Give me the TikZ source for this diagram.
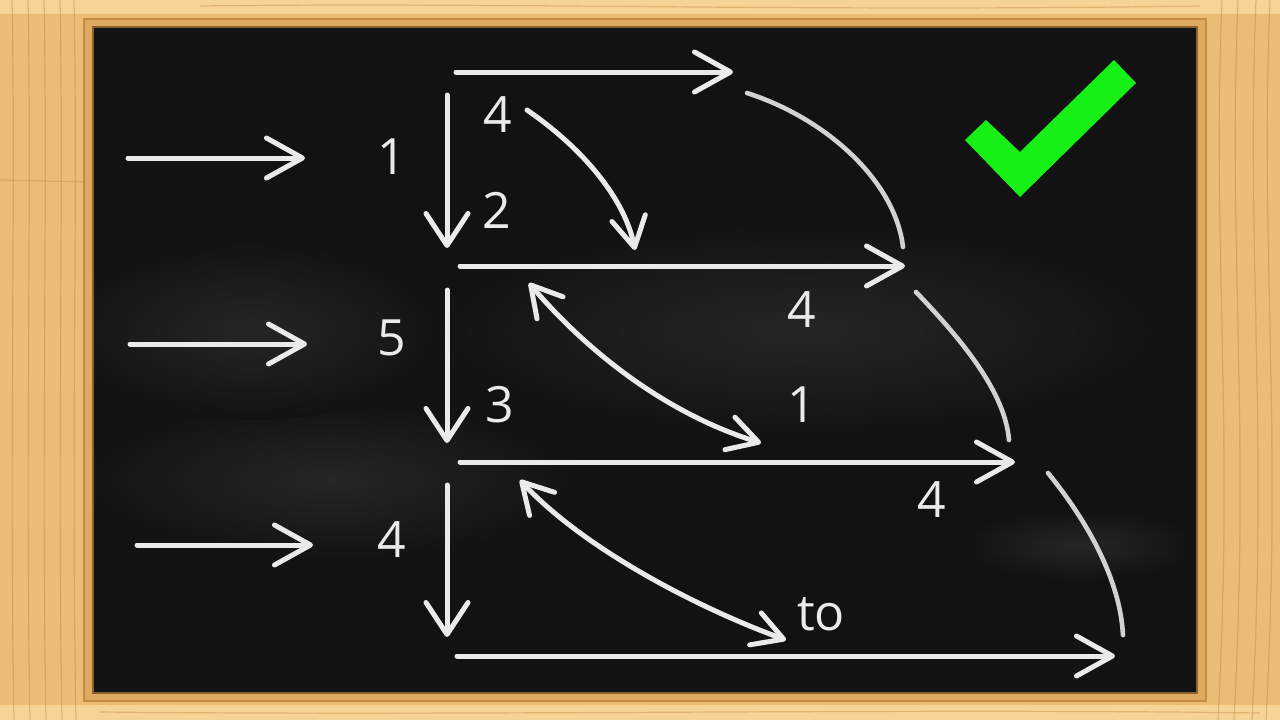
\documentclass[tikz,border=0pt]{standalone}
\usepackage{fontspec}
\setmainfont{Open Sans}
\usetikzlibrary{arrows.meta}
\definecolor{wood}{RGB}{234,188,116}
\definecolor{wooddark}{RGB}{196,140,66}
\definecolor{woodlight}{RGB}{246,212,150}
\definecolor{woodbevel}{RGB}{222,170,95}
\definecolor{board}{RGB}{18,18,18}
\definecolor{smudge}{RGB}{38,38,38}
\definecolor{chalk}{RGB}{234,234,234}
\definecolor{chalkarc}{RGB}{210,210,210}
\definecolor{tick}{RGB}{22,240,22}
\begin{document}
\begin{tikzpicture}[x=1pt,y=-1pt,
  chalkline/.style={draw=chalk,line width=5pt,line cap=round},
  arr/.style={chalkline,-{Straight Barb[length=36pt,width=40pt,round]}},
  varr/.style={chalkline,-{Straight Barb[length=32pt,width=42pt,round]}},
  darr/.style={chalkline,{Straight Barb[length=30pt,width=34pt,round]}-{Straight Barb[length=30pt,width=34pt,round]}},
  carr/.style={chalkline,-{Straight Barb[length=30pt,width=34pt,round]}},
  arcline/.style={draw=chalkarc,line width=4.6pt,line cap=round},
  lbl/.style={text=chalk,font=\fontsize{50}{50}\selectfont,inner sep=0pt},
  grain/.style={draw=wooddark,line width=1.2pt,opacity=0.45}
]
\useasboundingbox (0,0) rectangle (1280,720);
% frame
\fill[wood] (0,0) rectangle (1280,720);
\fill[woodlight] (0,0) rectangle (1280,14);
\fill[woodlight] (0,705) rectangle (1280,720);
\foreach \x in {12,28,44,60,74} {\draw[grain] (\x,0) .. controls (\x+4,200) and (\x-3,450) .. (\x+2,720);}
\draw[grain] (0,180) -- (88,182);
\foreach \x in {1222,1238,1256,1270} {\draw[grain] (\x,0) .. controls (\x-10,250) and (\x+12,420) .. (\x-4,720);}
\draw[grain] (200,6) .. controls (500,2) and (800,12) .. (1200,6);
\draw[grain] (100,712) .. controls (500,716) and (900,708) .. (1260,713);
\fill[woodbevel] (84,19) rectangle (1206,701);
\draw[wooddark,line width=1.5pt] (84,19) rectangle (1206,701);
% board
\fill[board] (93,27) rectangle (1197,693);
\begin{scope}
\clip (93,27) rectangle (1197,693);
\shade[inner color=smudge,outer color=board] (330,480) ellipse (260 and 80);
\shade[inner color=smudge,outer color=board] (1080,545) ellipse (120 and 35);
\shade[inner color=smudge,outer color=board] (800,330) ellipse (380 and 110);
\shade[inner color=smudge,outer color=board] (250,330) ellipse (200 and 90);
\end{scope}
\draw[wooddark!70!black,line width=1.5pt] (93,27) rectangle (1197,693);
% check mark
\fill[tick] (965,140) -- (986,120) -- (1020,152) -- (1114,60) -- (1136,83) -- (1020,197) -- cycle;
% coordinates
\coordinate (l1a) at (128,158); \coordinate (l1b) at (305,158);
\coordinate (l2a) at (130,344); \coordinate (l2b) at (307,344);
\coordinate (l3a) at (137,545); \coordinate (l3b) at (313,545);
\coordinate (v1a) at (447,95);  \coordinate (v1b) at (447,248);
\coordinate (v2a) at (447,290); \coordinate (v2b) at (447,443);
\coordinate (v3a) at (447,485); \coordinate (v3b) at (447,637);
\coordinate (h0a) at (456,72);  \coordinate (h0b) at (733,72);
\coordinate (h1a) at (460,266); \coordinate (h1b) at (905,266);
\coordinate (h2a) at (460,462); \coordinate (h2b) at (1015,462);
\coordinate (h3a) at (457,656); \coordinate (h3b) at (1115,656);
\coordinate (ca) at (527,110);  \coordinate (cb) at (635,250);
\coordinate (d1a) at (529,283); \coordinate (d1b) at (761,443);
\coordinate (d2a) at (520,480); \coordinate (d2b) at (786,640);
\coordinate (a1a) at (747,93);  \coordinate (a1b) at (903,247);
\coordinate (a2a) at (916,292); \coordinate (a2b) at (1009,440);
\coordinate (a3a) at (1048,473); \coordinate (a3b) at (1123,635);
% arrows
\draw[arr] (l1a) -- (l1b);
\draw[arr] (l2a) -- (l2b);
\draw[arr] (l3a) -- (l3b);
\draw[varr] (v1a) -- (v1b);
\draw[varr] (v2a) -- (v2b);
\draw[varr] (v3a) -- (v3b);
\draw[arr] (h0a) -- (h0b);
\draw[arr] (h1a) -- (h1b);
\draw[arr] (h2a) -- (h2b);
\draw[arr] (h3a) -- (h3b);
\draw[carr] (ca) .. controls (585,150) and (625,200) .. (cb);
\draw[darr] (d1a) .. controls (590,355) and (670,415) .. (d1b);
\draw[darr] (d2a) .. controls (580,545) and (690,605) .. (d2b);
\draw[arcline] (a1a) .. controls (825,118) and (895,180) .. (a1b);
\draw[arcline] (a2a) .. controls (962,340) and (1005,392) .. (a2b);
\draw[arcline] (a3a) .. controls (1088,522) and (1120,580) .. (a3b);
% labels
\node[lbl] (n1) at (392,157) {1};
\node[lbl] (n5) at (392,338) {5};
\node[lbl] (n4l) at (392,540) {4};
\node[lbl] (n4t) at (498,115) {4};
\node[lbl] (n2) at (497,210) {2};
\node[lbl] (n3) at (500,405) {3};
\node[lbl] (n4a) at (802,310) {4};
\node[lbl] (n1b) at (802,405) {1};
\node[lbl] (n4b) at (932,500) {4};
\node[lbl] (nto) at (821,614) {to};
\end{tikzpicture}
\end{document}
